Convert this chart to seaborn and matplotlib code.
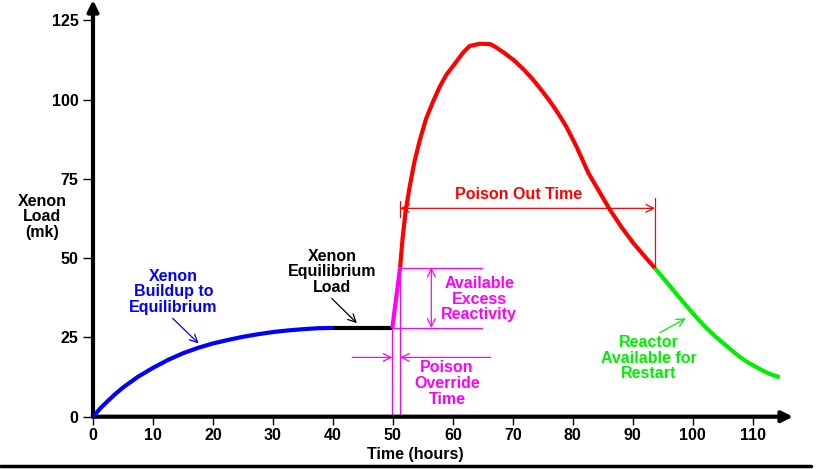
import matplotlib
matplotlib.use("Agg")
import matplotlib.pyplot as plt
import seaborn as sns
import pandas as pd
from matplotlib.lines import Line2D

sns.set_theme(style="white")
plt.rcParams["font.family"] = ["Liberation Sans", "DejaVu Sans"]
plt.rcParams["font.weight"] = "bold"

# curve segments (time in hours, xenon load in mk)
buildup_t = [0, 1.25, 2.5, 3.75, 5, 7.5, 10, 12.5, 15, 17.5, 20, 22.5, 25, 27.5, 30, 32.5, 35, 37.5, 40]
buildup_y = [0, 2.7, 5.0, 7.2, 9.2, 12.6, 15.4, 17.9, 20.0, 21.7, 23.1, 24.2, 25.2, 26.0, 26.7, 27.2, 27.6, 27.9, 28.0]
equil_t = [40, 49.9]
equil_y = [28.0, 28.0]
override_t = [49.9, 51.2]
override_y = [28.0, 47.0]
poison_t = [51.2, 51.6, 52.1, 52.8, 53.6, 54.5, 55.5, 56.7, 57.8, 58.9, 60.6, 61.7, 62.8, 64.5, 66.2,
            67.0, 68.5, 70.1, 71.8, 73.4, 74.8, 76.2, 77.6, 78.9, 80.6, 82.6, 84.4, 86.2, 88.1, 90.1,
            92.0, 93.7]
poison_y = [47.0, 56.0, 64.5, 72.6, 80.5, 87.3, 93.8, 99.4, 104.0, 107.8, 112.0, 114.8, 116.9, 117.6, 117.5,
            116.7, 114.8, 112.5, 109.5, 106.2, 102.9, 99.4, 95.5, 91.5, 85.2, 76.8, 71.0, 65.2, 59.8, 54.7,
            50.5, 46.8]
restart_t = [93.7, 95.2, 96.7, 98.1, 99.5, 100.9, 102.3, 103.7, 105.1, 106.5, 107.8, 109.2, 110.6, 111.7, 112.8, 113.7, 114.5]
restart_y = [46.8, 43.4, 40.0, 36.8, 33.7, 30.7, 27.9, 25.4, 23.1, 20.9, 18.9, 17.1, 15.6, 14.5, 13.5, 12.9, 12.4]

x_ticks = [0, 10, 20, 30, 40, 50, 60, 70, 80, 90, 100, 110]
y_ticks = [0, 25, 50, 75, 100, 125]

BLUE, RED, MAG, GREEN = "#0000FF", "#FF0000", "#FF00FF", "#00EE00"

fig = plt.figure(figsize=(8.28, 4.69), dpi=100)
ax = fig.add_axes([93 / 828, 52.3 / 469, 700 / 828, 416.7 / 469])

segments = [
    (buildup_t, buildup_y, BLUE),
    (equil_t, equil_y, "black"),
    (override_t, override_y, MAG),
    (poison_t, poison_y, RED),
    (restart_t, restart_y, GREEN),
]
for t, y, c in segments:
    seg = pd.DataFrame({"t": t, "y": y})
    sns.lineplot(data=seg, x="t", y="y", color=c, lw=3, ax=ax, sort=False,
                 solid_capstyle="butt", solid_joinstyle="round", zorder=4)

ax.set_xlim(0, 116.7)
ax.set_ylim(0, 131.4)
ax.set_xticks(x_ticks)
ax.set_yticks(y_ticks)
ax.set_xlabel("")
ax.set_ylabel("")
for s in ax.spines.values():
    s.set_visible(False)
ax.tick_params(axis="both", which="both", direction="out", length=7.5, width=1,
               colors="black", labelsize=11.5, pad=3, bottom=True, left=True)
ax.tick_params(axis="x", length=6, pad=2)
for lab in ax.get_xticklabels() + ax.get_yticklabels():
    lab.set_fontweight("bold")

# axes with arrow heads
arrow_kw = dict(arrowstyle="-|>", lw=3, color="black", mutation_scale=16, shrinkA=0, shrinkB=0)
ax.annotate("", xy=(1, 0), xytext=(0, 0), xycoords="axes fraction", arrowprops=arrow_kw, annotation_clip=False)
ax.annotate("", xy=(0, 1), xytext=(0, 0), xycoords="axes fraction", arrowprops=arrow_kw, annotation_clip=False)

txt = dict(ha="center", va="center", fontsize=11.5, fontweight="bold", linespacing=1.05)
thin = dict(arrowstyle="->", lw=0.9, shrinkA=0, shrinkB=0, mutation_scale=14)

ax.text(-8.5, 63, "Xenon\nLoad\n(mk)", color="black", clip_on=False, **txt)
ax.text(53.7, -12, "Time (hours)", color="black", clip_on=False, **txt)

# xenon buildup
ax.text(13.4, 39.4, "Xenon\nBuildup to\nEquilibrium", color=BLUE, **txt)
ax.annotate("", xy=(17.6, 23.1), xytext=(13.3, 31), arrowprops=dict(color=BLUE, **thin))

# equilibrium load
ax.text(39.9, 45.7, "Xenon\nEquilibrium\nLoad", color="black", **txt)
ax.annotate("", xy=(44.0, 29.5), xytext=(39.8, 37.3), arrowprops=dict(color="black", **thin))

# poison out time
ax.text(71, 70.2, "Poison Out Time", color=RED, **txt)
ax.annotate("", xy=(51.2, 65.7), xytext=(93.7, 65.7), arrowprops=dict(color=RED, arrowstyle="<->",
            lw=0.9, shrinkA=0, shrinkB=0, mutation_scale=14))
ax.plot([93.7, 93.7], [69, 46.8], color=RED, lw=0.9)
ax.plot([51.2, 51.2], [63, 68], color=RED, lw=0.9)

# excess reactivity
ax.plot([49.9, 49.9], [0, 28], color=MAG, lw=0.9)
ax.plot([51.2, 51.2], [0, 47], color=MAG, lw=0.9)
ax.plot([51.2, 64.9], [47, 47], color=MAG, lw=0.9)
ax.plot([49.9, 64.9], [28, 28], color=MAG, lw=0.9)
ax.annotate("", xy=(56.4, 28), xytext=(56.4, 47), arrowprops=dict(color=MAG, arrowstyle="<->",
            lw=0.9, shrinkA=0, shrinkB=0, mutation_scale=14))
ax.text(64.4, 37, "Available\nExcess\nReactivity", color=MAG, **txt)

# poison override time
ax.annotate("", xy=(49.9, 18.7), xytext=(43.2, 18.7), arrowprops=dict(color=MAG, **thin))
ax.annotate("", xy=(51.2, 18.7), xytext=(66.3, 18.7), arrowprops=dict(color=MAG, **thin))
ax.text(59, 10.5, "Poison\nOverride\nTime", color=MAG, **txt)

# restart
ax.text(92.6, 18.4, "Reactor\nAvailable for\nRestart", color=GREEN, **txt)
ax.annotate("", xy=(98.8, 31), xytext=(94.5, 26.5), arrowprops=dict(color=GREEN, **thin))

# bottom rule
fig.add_artist(Line2D([0, 811 / 828], [3.5 / 469, 3.5 / 469], color="black", lw=2.5,
                      transform=fig.transFigure))

fig.savefig("out.png", dpi=100)
